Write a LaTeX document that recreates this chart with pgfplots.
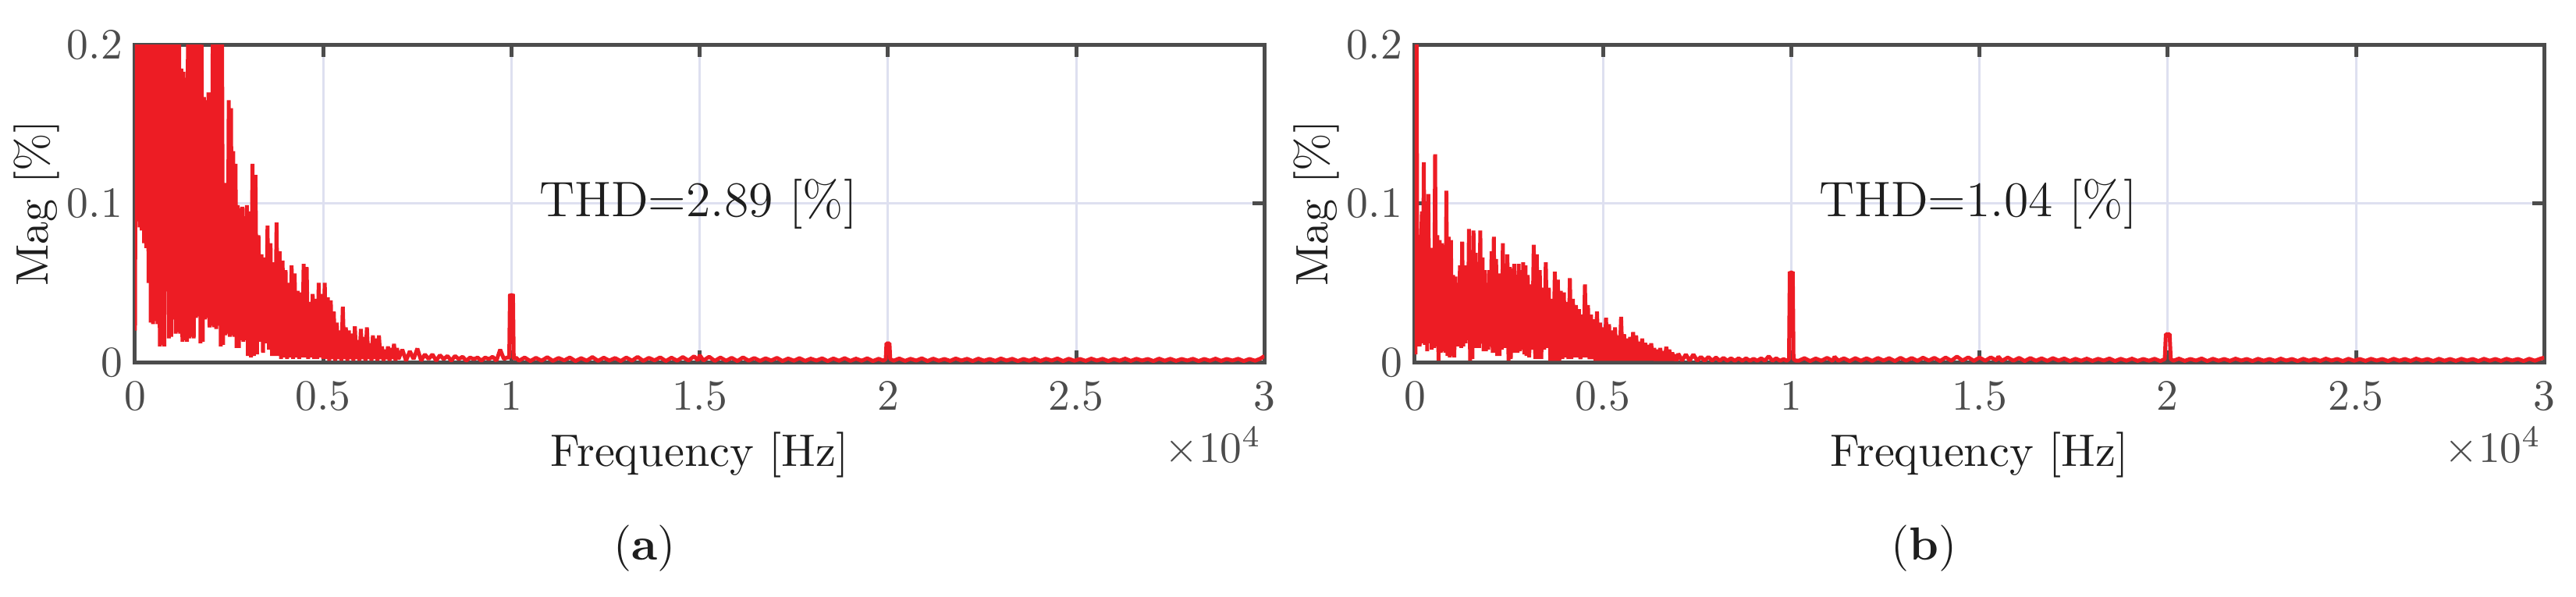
\documentclass[border=0pt]{standalone}
\usepackage{pgfplots}
\usepackage{pgfplotstable}
\pgfplotsset{compat=1.18}
\definecolor{axgray}{RGB}{76,76,76}
\definecolor{gridc}{RGB}{222,224,240}
\definecolor{mred}{RGB}{237,28,36}
\definecolor{labblack}{RGB}{30,30,30}

\pgfplotstableread{
f v
0 0.020
30 0.26
60 0.09
90 0.31
120 0.085
150 0.24
180 0.083
210 0.28
240 0.075
270 0.22
300 0.072
330 0.33
360 0.05
390 0.25
420 0.025
450 0.27
480 0.024
510 0.21
540 0.026
570 0.30
600 0.024
630 0.23
660 0.010
690 0.26
720 0.011
750 0.24
780 0.010
810 0.22
840 0.054
870 0.29
900 0.015
930 0.25
960 0.016
990 0.21
1020 0.027
1050 0.26
1080 0.018
1110 0.23
1140 0.019
1170 0.21
1200 0.018
1230 0.185
1260 0.013
1290 0.183
1320 0.014
1350 0.148
1380 0.013
1410 0.23
1440 0.015
1470 0.27
1500 0.016
1530 0.21
1560 0.015
1590 0.25
1620 0.028
1650 0.22
1680 0.029
1710 0.26
1740 0.012
1770 0.20
1800 0.013
1830 0.167
1860 0.027
1890 0.165
1920 0.028
1950 0.17
1980 0.022
2010 0.148
2040 0.023
2070 0.25
2100 0.022
2130 0.23
2160 0.021
2190 0.182
2220 0.023
2250 0.26
2280 0.010
2310 0.22
2340 0.011
2370 0.113
2400 0.017
2430 0.109
2460 0.018
2490 0.165
2520 0.016
2550 0.160
2580 0.017
2610 0.133
2640 0.016
2670 0.125
2700 0.009
2730 0.099
2760 0.009
2790 0.097
2820 0.014
2850 0.098
2880 0.013
2910 0.092
2940 0.014
2970 0.099
3000 0.004
3040 0.095
3080 0.003
3120 0.125
3160 0.004
3200 0.118
3240 0.005
3280 0.080
3320 0.013
3360 0.068
3400 0.006
3440 0.066
3480 0.012
3520 0.086
3560 0.008
3600 0.075
3640 0.004
3680 0.063
3720 0.004
3760 0.088
3800 0.004
3840 0.070
3880 0.002
3920 0.064
3960 0.003
4000 0.058
4040 0.002
4080 0.050
4120 0.003
4160 0.061
4200 0.002
4240 0.056
4280 0.003
4320 0.045
4360 0.002
4400 0.044
4440 0.003
4480 0.062
4520 0.003
4560 0.060
4600 0.002
4640 0.038
4680 0.003
4720 0.043
4760 0.002
4800 0.040
4840 0.002
4880 0.050
4920 0.003
4960 0.043
5000 0.002
5040 0.050
5080 0.002
5120 0.041
5160 0.001
5200 0.039
5240 0.002
5280 0.032
5320 0.001
5360 0.025
5400 0.002
5440 0.020
5480 0.001
5520 0.035
5560 0.002
5600 0.022
5640 0.001
5680 0.020
5720 0.002
5760 0.018
5800 0.001
5840 0.0226
5880 0.002
5920 0.014
5960 0.001
6000 0.021
6040 0.002
6080 0.016
6120 0.001
6160 0.022
6200 0.002
6240 0.012
6280 0.001
6320 0.017
6360 0.002
6400 0.015
6440 0.001
6480 0.017
6520 0.002
6560 0.010
6600 0.001
6640 0.008
6680 0.002
6720 0.010
6760 0.001
6800 0.009
6840 0.002
6880 0.0116
6920 0.001
6960 0.009
7000 0.002
7100 0.008
7200 0.001
7300 0.007
7400 0.002
7500 0.0087
7600 0.001
7700 0.005
7800 0.002
7900 0.005
8000 0.001
8100 0.0045
8200 0.002
8300 0.004
8400 0.001
8500 0.004
8600 0.002
8700 0.0035
8800 0.001
8900 0.003
9000 0.002
9100 0.003
9200 0.001
9300 0.003
9400 0.002
9500 0.0035
9600 0.001
9700 0.008
9800 0.002
9880 0.003
9940 0.003
9960 0.043
10000 0.041
10040 0.043
10060 0.002
10120 0.003
10200 0.001
10350 0.003
10500 0.0008
10650 0.0028
10800 0.001
10950 0.0032
11100 0.0009
11250 0.0027
11400 0.0012
11550 0.003
11700 0.0008
11850 0.0026
12000 0.001
12150 0.0033
12300 0.0009
12450 0.0029
12600 0.0011
12750 0.0027
12900 0.0008
13050 0.003
13200 0.001
13350 0.0034
13500 0.0009
13650 0.0028
13800 0.0012
13950 0.0031
14100 0.0008
14250 0.0029
14400 0.001
14550 0.0033
14700 0.0011
14850 0.0038
14950 0.0012
15000 0.0045
15100 0.0011
15250 0.0035
15400 0.0009
15550 0.003
15700 0.001
15850 0.0028
16000 0.0008
16150 0.0031
16300 0.001
16450 0.0027
16600 0.0009
16750 0.0025
16900 0.0011
17050 0.0028
17200 0.0008
17350 0.0024
17500 0.001
17650 0.0026
17800 0.0009
17950 0.0023
18100 0.0011
18250 0.0025
18400 0.0008
18550 0.0024
18700 0.001
18850 0.0026
19000 0.0009
19150 0.0023
19300 0.001
19450 0.0025
19600 0.0008
19750 0.0022
19880 0.001
19940 0.002
19960 0.012
20000 0.0118
20040 0.012
20060 0.002
20150 0.001
20300 0.0024
20450 0.0009
20600 0.0022
20750 0.0011
20900 0.0025
21050 0.0008
21200 0.0023
21350 0.001
21500 0.0021
21650 0.0009
21800 0.0024
21950 0.0011
22100 0.0022
22250 0.0008
22400 0.0023
22550 0.001
22700 0.0021
22850 0.0009
23000 0.0024
23150 0.0011
23300 0.0022
23450 0.0008
23600 0.0021
23750 0.001
23900 0.0023
24050 0.0009
24200 0.0022
24350 0.0011
24500 0.0024
24650 0.0008
24800 0.0022
24950 0.001
25100 0.0021
25250 0.0009
25400 0.0023
25550 0.0011
25700 0.0022
25850 0.0008
26000 0.0021
26150 0.001
26300 0.0023
26450 0.0009
26600 0.0022
26750 0.0011
26900 0.0021
27050 0.0008
27200 0.0023
27350 0.001
27500 0.0022
27650 0.0009
27800 0.0021
27950 0.0011
28100 0.0022
28250 0.0008
28400 0.0021
28550 0.001
28700 0.0023
28850 0.0009
29000 0.0021
29150 0.0011
29300 0.0022
29450 0.0008
29600 0.0021
29750 0.001
29900 0.0024
30000 0.004
}\dataA

\pgfplotstableread{
f v
0 0.035
20 0.005
45 0.26
70 0.013
100 0.078
130 0.010
160 0.070
190 0.095
210 0.012
240 0.126
270 0.011
300 0.099
330 0.007
360 0.106
390 0.012
420 0.061
450 0.008
480 0.072
510 0.009
540 0.131
570 0.010
600 0.080
630 0.001
660 0.077
690 0.006
720 0.075
750 0.007
780 0.067
810 0.006
840 0.108
870 0.004
900 0.079
930 0.003
960 0.077
990 0.004
1020 0.055
1050 0.003
1080 0.054
1110 0.010
1140 0.050
1170 0.010
1200 0.061
1230 0.009
1260 0.076
1290 0.010
1320 0.061
1350 0.012
1380 0.055
1410 0.014
1440 0.084
1470 0.001
1500 0.070
1530 0.002
1560 0.083
1590 0.009
1620 0.069
1650 0.009
1680 0.060
1710 0.009
1740 0.083
1770 0.012
1800 0.066
1830 0.007
1860 0.058
1890 0.007
1920 0.050
1950 0.008
1980 0.058
2010 0.010
2040 0.070
2070 0.006
2100 0.079
2130 0.006
2160 0.065
2190 0.004
2220 0.056
2250 0.004
2280 0.052
2310 0.008
2340 0.075
2370 0.009
2400 0.057
2430 0.009
2460 0.068
2490 0.001
2520 0.060
2550 0.002
2580 0.059
2610 0.006
2640 0.062
2670 0.006
2700 0.055
2730 0.006
2760 0.062
2790 0.007
2820 0.058
2850 0.008
2880 0.063
2910 0.005
2940 0.061
2970 0.004
3000 0.055
3040 0.003
3080 0.049
3120 0.008
3160 0.074
3200 0.002
3240 0.068
3280 0.002
3320 0.058
3360 0.002
3400 0.047
3440 0.008
3480 0.063
3520 0.009
3560 0.047
3600 0.001
3640 0.040
3680 0.001
3720 0.057
3760 0.001
3800 0.052
3840 0.001
3880 0.045
3920 0.002
3960 0.044
4000 0.003
4040 0.038
4080 0.002
4120 0.053
4160 0.002
4200 0.040
4240 0.003
4280 0.036
4320 0.003
4360 0.0335
4400 0.002
4440 0.030
4480 0.003
4520 0.049
4560 0.003
4600 0.036
4640 0.002
4680 0.030
4720 0.002
4760 0.027
4800 0.001
4840 0.032
4880 0.001
4920 0.025
4960 0.001
5000 0.022
5040 0.001
5080 0.028
5120 0.001
5160 0.024
5200 0.001
5240 0.020
5280 0.001
5320 0.022
5360 0.001
5400 0.017
5440 0.001
5480 0.0286
5520 0.001
5560 0.0177
5600 0.001
5640 0.015
5680 0.001
5720 0.016
5760 0.001
5800 0.019
5840 0.001
5880 0.017
5920 0.001
5960 0.013
6000 0.001
6040 0.015
6080 0.001
6120 0.0123
6160 0.001
6200 0.011
6240 0.001
6280 0.012
6320 0.001
6360 0.009
6400 0.001
6440 0.008
6480 0.001
6520 0.009
6560 0.001
6600 0.007
6640 0.001
6680 0.0098
6720 0.001
6760 0.008
6800 0.001
6840 0.0062
6880 0.001
6920 0.005
6960 0.001
7000 0.0054
7100 0.001
7200 0.005
7300 0.001
7400 0.005
7500 0.001
7600 0.0034
7700 0.001
7800 0.0034
7900 0.001
8000 0.003
8100 0.001
8200 0.0028
8300 0.001
8400 0.0025
8500 0.001
8600 0.0025
8700 0.001
8800 0.0025
8900 0.001
9000 0.0022
9100 0.001
9200 0.0025
9300 0.001
9400 0.0038
9500 0.001
9600 0.0025
9700 0.001
9800 0.002
9880 0.001
9940 0.002
9960 0.057
10000 0.056
10040 0.057
10060 0.002
10120 0.001
10200 0.001
10350 0.0026
10500 0.0008
10650 0.0024
10800 0.001
10950 0.0028
11100 0.0009
11150 0.0035
11250 0.001
11400 0.0025
11550 0.0008
11700 0.0026
11850 0.001
12000 0.0025
12150 0.0009
12300 0.0027
12450 0.0011
12600 0.0026
12750 0.0008
12900 0.0028
13050 0.001
13200 0.0027
13350 0.0009
13500 0.0029
13650 0.0011
13800 0.0028
13950 0.0008
14100 0.003
14250 0.001
14400 0.0036
14550 0.0011
14700 0.0031
14850 0.0009
15000 0.003
15150 0.001
15300 0.0031
15450 0.0012
15500 0.0036
15600 0.0009
15750 0.003
15900 0.001
16050 0.0028
16200 0.0008
16350 0.0027
16500 0.001
16650 0.0025
16800 0.0009
16950 0.0026
17100 0.0011
17250 0.0024
17400 0.0008
17550 0.0022
17700 0.001
17850 0.0023
18000 0.0009
18150 0.0022
18300 0.0011
18450 0.0024
18600 0.0008
18750 0.0022
18900 0.001
19050 0.0023
19200 0.0009
19350 0.0021
19500 0.001
19650 0.0022
19800 0.0008
19920 0.002
19950 0.0178
20000 0.0175
20050 0.0178
20080 0.002
20150 0.001
20300 0.0023
20450 0.0009
20600 0.0021
20750 0.0011
20900 0.0024
21050 0.0008
21200 0.0022
21350 0.001
21500 0.0021
21650 0.0009
21800 0.0023
21950 0.0011
22100 0.0021
22250 0.0008
22400 0.0022
22550 0.001
22700 0.0021
22850 0.0009
23000 0.0023
23150 0.0011
23300 0.0021
23450 0.0008
23600 0.0022
23750 0.001
23900 0.0021
24050 0.0009
24200 0.0023
24350 0.0011
24500 0.0021
24650 0.0008
24800 0.0022
24950 0.001
25100 0.0021
25250 0.0009
25400 0.0022
25550 0.0011
25700 0.0021
25850 0.0008
26000 0.0022
26150 0.001
26300 0.0021
26450 0.0009
26600 0.0023
26750 0.0011
26900 0.0021
27050 0.0008
27200 0.0022
27350 0.001
27500 0.0021
27650 0.0009
27800 0.0022
27950 0.0011
28100 0.0021
28250 0.0008
28400 0.0022
28550 0.001
28700 0.0021
28850 0.0009
29000 0.0022
29150 0.0011
29300 0.0021
29450 0.0008
29600 0.0022
29750 0.001
29900 0.0023
30000 0.003
}\dataB

\pgfplotsset{
  myax/.style={
    scale only axis, width=260.8pt, height=73.33pt,
    xmin=0, xmax=30000, ymin=0, ymax=0.2,
    clip mode=individual,
    xtick={0,5000,10000,15000,20000,25000,30000},
    xticklabels={0,0.5,1,1.5,2,2.5,3},
    scaled x ticks=false,
    ytick={0,0.1,0.2}, yticklabels={0,0.1,0.2},
    xmajorgrids, ymajorgrids,
    major grid style={color=gridc, line width=0.55pt},
    tick align=inside, tick pos=both, major tick length=2.8pt,
    tick style={color=axgray, line width=0.9pt},
    axis line style={color=axgray, line width=0.9pt},
    xticklabel style={font=\fontsize{10}{12}\selectfont, text=axgray, anchor=base, yshift=-11pt, inner sep=0pt},
    yticklabel style={font=\fontsize{10}{12}\selectfont, text=axgray, anchor=east, xshift=-2.7pt, inner sep=0pt},
    xlabel={Frequency [Hz]}, ylabel={Mag [\%]},
    label style={font=\fontsize{10.5}{12.5}\selectfont, text=labblack},
    xlabel style={at={(rel axis cs:0.5,0)}, anchor=base, yshift=-24pt, inner sep=0pt},
    ylabel style={at={(rel axis cs:0,0.5)}, anchor=base, yshift=20.1pt, inner sep=0pt},
  },
  myline/.style={color=mred, line width=0.9pt, line join=bevel, mark=none},
}

\begin{document}
\begin{tikzpicture}
\path[use as bounding box] (0,0) rectangle (594.8pt,137.7pt);

\begin{axis}[myax, at={(31.17pt,54.05pt)}, anchor=south west]
\addplot[myline] table[x=f, y=v] {\dataA};
\node[anchor=base west, inner sep=0pt, font=\fontsize{11.5}{13.5}\selectfont, text=labblack] at (axis cs:10720,0.092) {THD=2.89 [\%]};
\node[anchor=base east, inner sep=0pt, text=axgray, font=\fontsize{10}{12}\selectfont, yshift=-23.1pt, xshift=-0.5pt] at (rel axis cs:1,0) {$\times10^{4}$};
\end{axis}

\begin{axis}[myax, at={(326.67pt,54.05pt)}, anchor=south west]
\addplot[myline] table[x=f, y=v] {\dataB};
\node[anchor=base west, inner sep=0pt, font=\fontsize{11.5}{13.5}\selectfont, text=labblack] at (axis cs:10720,0.092) {THD=1.04 [\%]};
\node[anchor=base east, inner sep=0pt, text=axgray, font=\fontsize{10}{12}\selectfont, yshift=-23.1pt, xshift=-0.5pt] at (rel axis cs:1,0) {$\times10^{4}$};
\end{axis}

\node[anchor=base, inner sep=0pt, font=\fontsize{10.7}{12.5}\selectfont, text=labblack] at (148.8pt,8.47pt) {(\textbf{a})};
\node[anchor=base, inner sep=0pt, font=\fontsize{10.7}{12.5}\selectfont, text=labblack] at (444.3pt,8.47pt) {(\textbf{b})};
\end{tikzpicture}
\end{document}
